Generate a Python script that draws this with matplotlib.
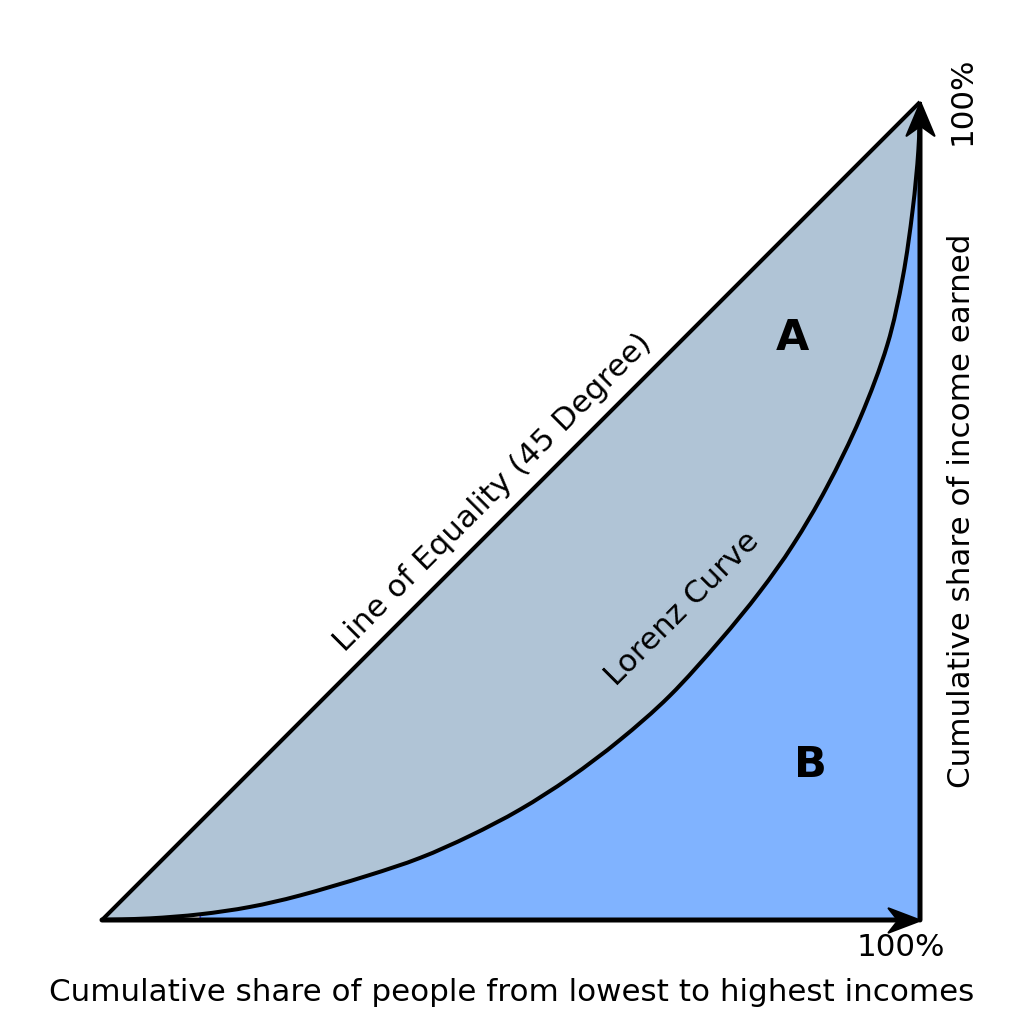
import matplotlib.pyplot as plt
import numpy as np
from matplotlib.path import Path
from matplotlib.patches import PathPatch

plt.rc('font', family='DejaVu Sans')

# Lorenz curve (share of people -> share of income)
pop_share = [0, 0.059, 0.120, 0.181, 0.242, 0.324, 0.389, 0.450, 0.511, 0.572,
             0.633, 0.694, 0.755, 0.804, 0.845, 0.886, 0.927, 0.960, 0.979,
             0.991, 0.998, 1.0]
income_share = [0, 0.002, 0.007, 0.016, 0.030, 0.054, 0.076, 0.103, 0.135, 0.174,
                0.220, 0.274, 0.341, 0.401, 0.459, 0.529, 0.614, 0.703, 0.786,
                0.868, 0.941, 1.0]
equality = [0, 1]

col_a = '#b0c4d6'
col_b = '#80b3ff'


def smooth(xs, ys):
    # catmull-rom through the points, as cubic bezier segments
    p = np.column_stack([xs, ys])
    verts = [p[0]]
    codes = [Path.MOVETO]
    for i in range(len(p) - 1):
        p0 = p[max(i - 1, 0)]
        p1, p2 = p[i], p[i + 1]
        p3 = p[min(i + 2, len(p) - 1)]
        verts += [p1 + (p2 - p0) / 6, p2 - (p3 - p1) / 6, p2]
        codes += [Path.CURVE4] * 3
    return verts, codes


fig = plt.figure(figsize=(10.24, 10.24), dpi=100)
ax = fig.add_axes([0, 0, 1, 1])
# square 0..1 sits at pixels 102..920
ax.set_xlim(-102 / 818, 922 / 818)
ax.set_ylim(-104 / 818, 920 / 818)
ax.axis('off')

cv, cc = smooth(pop_share, income_share)

# area A between the line of equality and the curve
ax.add_patch(PathPatch(Path(cv + [cv[0]], cc + [Path.CLOSEPOLY]),
                       facecolor=col_a, lw=0, zorder=1))
# area B under the curve
bv, bc = smooth(pop_share[2:], income_share[2:])
bv = bv + [(1, 0), (pop_share[2], 0), bv[0]]
bc = bc + [Path.LINETO, Path.LINETO, Path.CLOSEPOLY]
ax.add_patch(PathPatch(Path(bv, bc), facecolor=col_b, edgecolor='#2b2bff',
                       lw=1.0, zorder=2))

ax.plot(equality, equality, color='k', lw=2.9, solid_capstyle='butt', zorder=4)
ax.add_patch(PathPatch(Path(cv, cc), facecolor='none', edgecolor='k',
                       lw=2.9, zorder=4))

# axes with stealth style arrow heads
line = dict(arrowstyle='-', lw=3.6, color='k', shrinkA=0, shrinkB=16)
ax.annotate('', xy=(1, 0), xytext=(0, 0), arrowprops=line, zorder=5)
ax.annotate('', xy=(1, 1), xytext=(1, 0), arrowprops=line, zorder=5)
head_r = Path([(0, 0), (-1, 0.38), (-0.7, 0), (-1, -0.38), (0, 0)],
              [Path.MOVETO, Path.LINETO, Path.LINETO, Path.LINETO, Path.CLOSEPOLY])
head_u = Path([(0, 0), (0.42, -1), (0, -0.7), (-0.42, -1), (0, 0)],
              [Path.MOVETO, Path.LINETO, Path.LINETO, Path.LINETO, Path.CLOSEPOLY])
ax.plot([1], [0], marker=head_r, ms=46, color='k', mew=1.5, zorder=6)
ax.plot([1], [1], marker=head_u, ms=48, color='k', mew=1.5, zorder=6)

fs = 22.3
ax.text(1.051, 1.002, '100%', rotation=90, ha='center', va='center',
        fontsize=fs, rotation_mode='anchor')
ax.text(1.051, 0.500, 'Cumulative share of income earned', rotation=90,
        ha='center', va='center', fontsize=fs, rotation_mode='anchor')
ax.text(0.977, -0.034, '100%', ha='center', va='center', fontsize=fs)
ax.text(0.501, -0.089, 'Cumulative share of people from lowest to highest incomes',
        ha='center', va='center', fontsize=fs)
ax.text(0.478, 0.523, 'Line of Equality (45 Degree)', rotation=45,
        ha='center', va='center', fontsize=fs, rotation_mode='anchor')
ax.text(0.709, 0.381, 'Lorenz Curve', rotation=45,
        ha='center', va='center', fontsize=fs, rotation_mode='anchor')
ax.text(0.844, 0.711, 'A', ha='center', va='center', fontsize=31, fontweight='bold')
ax.text(0.866, 0.189, 'B', ha='center', va='center', fontsize=31, fontweight='bold')

fig.savefig('out.png', dpi=100)
